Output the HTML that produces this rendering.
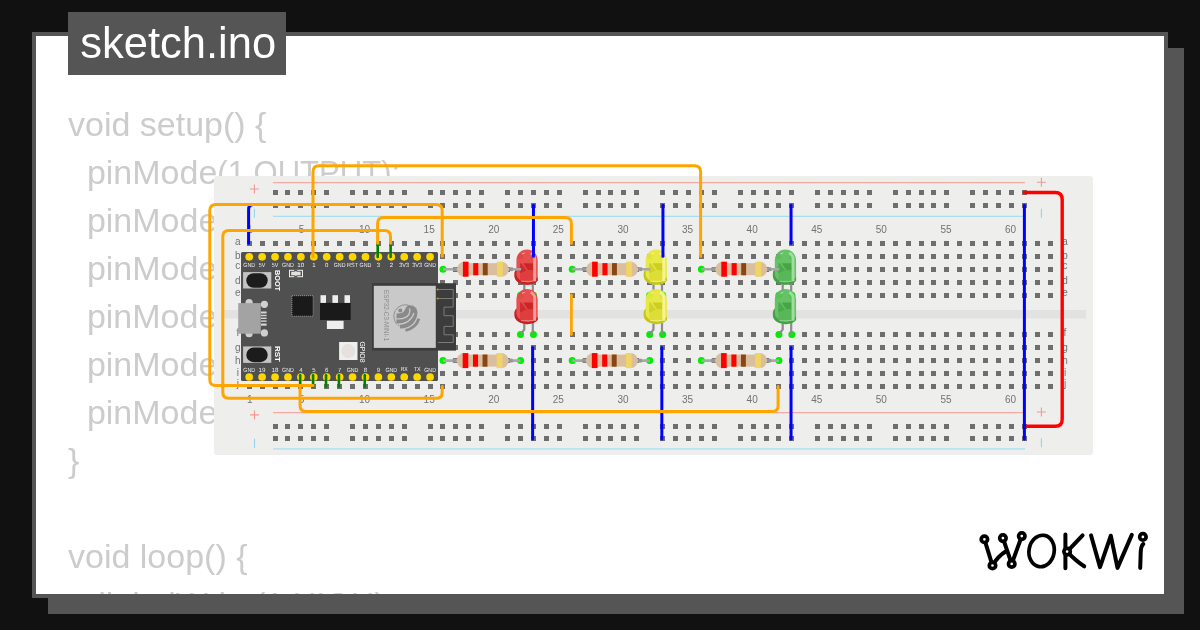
<!DOCTYPE html><html><head><meta charset="utf-8"><style>
html,body{margin:0;padding:0;background:#111;width:1200px;height:630px;overflow:hidden}
svg{position:absolute;left:0;top:0;will-change:transform}
text{font-family:"Liberation Sans",sans-serif}
</style></head><body>
<svg width="1200" height="630" viewBox="0 0 1200 630">
<rect x="0" y="0" width="1200" height="630" fill="#111"/>
<rect x="48" y="48" width="1136" height="566" fill="#555"/>
<rect x="32" y="32" width="1136" height="566" fill="#555"/>
<rect x="36" y="36" width="1128" height="558" fill="#fff"/>
<svg x="36" y="36" width="1128" height="558" viewBox="36 36 1128 558" overflow="hidden">
<g fill="#ccc" font-size="34" style="white-space:pre">
<text x="68" y="135.7" xml:space="preserve">void setup() {</text>
<text x="68" y="183.7" xml:space="preserve">  pinMode</text><text x="217.33" y="183.7" textLength="182.8" lengthAdjust="spacingAndGlyphs">(1,OUTPUT);</text>
<text x="68" y="231.7" xml:space="preserve">  pinMode</text><text x="217.33" y="231.7" textLength="182.8" lengthAdjust="spacingAndGlyphs">(2,OUTPUT);</text>
<text x="68" y="279.7" xml:space="preserve">  pinMode</text><text x="217.33" y="279.7" textLength="182.8" lengthAdjust="spacingAndGlyphs">(3,OUTPUT);</text>
<text x="68" y="327.7" xml:space="preserve">  pinMode</text><text x="217.33" y="327.7" textLength="182.8" lengthAdjust="spacingAndGlyphs">(4,OUTPUT);</text>
<text x="68" y="375.7" xml:space="preserve">  pinMode</text><text x="217.33" y="375.7" textLength="182.8" lengthAdjust="spacingAndGlyphs">(5,OUTPUT);</text>
<text x="68" y="423.7" xml:space="preserve">  pinMode</text><text x="217.33" y="423.7" textLength="182.8" lengthAdjust="spacingAndGlyphs">(6,OUTPUT);</text>
<text x="68" y="471.7" xml:space="preserve">}</text>
<text x="68" y="567.7" xml:space="preserve">void loop() {</text>
<text x="68" y="615.7" xml:space="preserve">  digitalWrite</text><text x="254.44" y="615.7" textLength="140" lengthAdjust="spacingAndGlyphs">(1,HIGH);</text>
</g>
<rect x="214" y="176" width="879" height="279" rx="3" fill="#eeeeec"/>
<rect x="221" y="310" width="865" height="8.5" fill="#e2e2e2"/>
<g stroke-width="1.3"><line x1="273" y1="182.6" x2="1025" y2="182.6" stroke="#f4aaa2"/><line x1="273" y1="216.3" x2="1025" y2="216.3" stroke="#a8def2"/><line x1="273" y1="412.7" x2="1025" y2="412.7" stroke="#f4aaa2"/><line x1="273" y1="448.9" x2="1025" y2="448.9" stroke="#a8def2"/></g>
<path d="M249.9 189h9M254.4 184.5v9" stroke="#f29a92" stroke-width="1.1" fill="none"/><path d="M254.4 208.7v9" stroke="#8fd4f2" stroke-width="1.1" fill="none"/><path d="M1036.9 182.2h9M1041.4 177.7v9" stroke="#f29a92" stroke-width="1.1" fill="none"/><path d="M1041.4 208.8v9" stroke="#8fd4f2" stroke-width="1.1" fill="none"/><path d="M250 414.9h9M254.5 410.4v9" stroke="#f29a92" stroke-width="1.1" fill="none"/><path d="M254.5 438.8v9" stroke="#8fd4f2" stroke-width="1.1" fill="none"/><path d="M1036.9 412h9M1041.4 407.5v9" stroke="#f29a92" stroke-width="1.1" fill="none"/><path d="M1041.4 438.3v9" stroke="#8fd4f2" stroke-width="1.1" fill="none"/>
<g fill="#6e6e6e"><rect x="247" y="241" width="5" height="5"/><rect x="247" y="254" width="5" height="5"/><rect x="247" y="267" width="5" height="5"/><rect x="247" y="280" width="5" height="5"/><rect x="247" y="293" width="5" height="5"/><rect x="247" y="332" width="5" height="5"/><rect x="247" y="345" width="5" height="5"/><rect x="247" y="358" width="5" height="5"/><rect x="247" y="371" width="5" height="5"/><rect x="247" y="384" width="5" height="5"/><rect x="260" y="241" width="5" height="5"/><rect x="260" y="254" width="5" height="5"/><rect x="260" y="267" width="5" height="5"/><rect x="260" y="280" width="5" height="5"/><rect x="260" y="293" width="5" height="5"/><rect x="260" y="332" width="5" height="5"/><rect x="260" y="345" width="5" height="5"/><rect x="260" y="358" width="5" height="5"/><rect x="260" y="371" width="5" height="5"/><rect x="260" y="384" width="5" height="5"/><rect x="273" y="241" width="5" height="5"/><rect x="273" y="254" width="5" height="5"/><rect x="273" y="267" width="5" height="5"/><rect x="273" y="280" width="5" height="5"/><rect x="273" y="293" width="5" height="5"/><rect x="273" y="332" width="5" height="5"/><rect x="273" y="345" width="5" height="5"/><rect x="273" y="358" width="5" height="5"/><rect x="273" y="371" width="5" height="5"/><rect x="273" y="384" width="5" height="5"/><rect x="285" y="241" width="5" height="5"/><rect x="285" y="254" width="5" height="5"/><rect x="285" y="267" width="5" height="5"/><rect x="285" y="280" width="5" height="5"/><rect x="285" y="293" width="5" height="5"/><rect x="285" y="332" width="5" height="5"/><rect x="285" y="345" width="5" height="5"/><rect x="285" y="358" width="5" height="5"/><rect x="285" y="371" width="5" height="5"/><rect x="285" y="384" width="5" height="5"/><rect x="298" y="241" width="5" height="5"/><rect x="298" y="254" width="5" height="5"/><rect x="298" y="267" width="5" height="5"/><rect x="298" y="280" width="5" height="5"/><rect x="298" y="293" width="5" height="5"/><rect x="298" y="332" width="5" height="5"/><rect x="298" y="345" width="5" height="5"/><rect x="298" y="358" width="5" height="5"/><rect x="298" y="371" width="5" height="5"/><rect x="298" y="384" width="5" height="5"/><rect x="311" y="241" width="5" height="5"/><rect x="311" y="254" width="5" height="5"/><rect x="311" y="267" width="5" height="5"/><rect x="311" y="280" width="5" height="5"/><rect x="311" y="293" width="5" height="5"/><rect x="311" y="332" width="5" height="5"/><rect x="311" y="345" width="5" height="5"/><rect x="311" y="358" width="5" height="5"/><rect x="311" y="371" width="5" height="5"/><rect x="311" y="384" width="5" height="5"/><rect x="324" y="241" width="5" height="5"/><rect x="324" y="254" width="5" height="5"/><rect x="324" y="267" width="5" height="5"/><rect x="324" y="280" width="5" height="5"/><rect x="324" y="293" width="5" height="5"/><rect x="324" y="332" width="5" height="5"/><rect x="324" y="345" width="5" height="5"/><rect x="324" y="358" width="5" height="5"/><rect x="324" y="371" width="5" height="5"/><rect x="324" y="384" width="5" height="5"/><rect x="337" y="241" width="5" height="5"/><rect x="337" y="254" width="5" height="5"/><rect x="337" y="267" width="5" height="5"/><rect x="337" y="280" width="5" height="5"/><rect x="337" y="293" width="5" height="5"/><rect x="337" y="332" width="5" height="5"/><rect x="337" y="345" width="5" height="5"/><rect x="337" y="358" width="5" height="5"/><rect x="337" y="371" width="5" height="5"/><rect x="337" y="384" width="5" height="5"/><rect x="350" y="241" width="5" height="5"/><rect x="350" y="254" width="5" height="5"/><rect x="350" y="267" width="5" height="5"/><rect x="350" y="280" width="5" height="5"/><rect x="350" y="293" width="5" height="5"/><rect x="350" y="332" width="5" height="5"/><rect x="350" y="345" width="5" height="5"/><rect x="350" y="358" width="5" height="5"/><rect x="350" y="371" width="5" height="5"/><rect x="350" y="384" width="5" height="5"/><rect x="363" y="241" width="5" height="5"/><rect x="363" y="254" width="5" height="5"/><rect x="363" y="267" width="5" height="5"/><rect x="363" y="280" width="5" height="5"/><rect x="363" y="293" width="5" height="5"/><rect x="363" y="332" width="5" height="5"/><rect x="363" y="345" width="5" height="5"/><rect x="363" y="358" width="5" height="5"/><rect x="363" y="371" width="5" height="5"/><rect x="363" y="384" width="5" height="5"/><rect x="376" y="241" width="5" height="5"/><rect x="376" y="254" width="5" height="5"/><rect x="376" y="267" width="5" height="5"/><rect x="376" y="280" width="5" height="5"/><rect x="376" y="293" width="5" height="5"/><rect x="376" y="332" width="5" height="5"/><rect x="376" y="345" width="5" height="5"/><rect x="376" y="358" width="5" height="5"/><rect x="376" y="371" width="5" height="5"/><rect x="376" y="384" width="5" height="5"/><rect x="389" y="241" width="5" height="5"/><rect x="389" y="254" width="5" height="5"/><rect x="389" y="267" width="5" height="5"/><rect x="389" y="280" width="5" height="5"/><rect x="389" y="293" width="5" height="5"/><rect x="389" y="332" width="5" height="5"/><rect x="389" y="345" width="5" height="5"/><rect x="389" y="358" width="5" height="5"/><rect x="389" y="371" width="5" height="5"/><rect x="389" y="384" width="5" height="5"/><rect x="402" y="241" width="5" height="5"/><rect x="402" y="254" width="5" height="5"/><rect x="402" y="267" width="5" height="5"/><rect x="402" y="280" width="5" height="5"/><rect x="402" y="293" width="5" height="5"/><rect x="402" y="332" width="5" height="5"/><rect x="402" y="345" width="5" height="5"/><rect x="402" y="358" width="5" height="5"/><rect x="402" y="371" width="5" height="5"/><rect x="402" y="384" width="5" height="5"/><rect x="415" y="241" width="5" height="5"/><rect x="415" y="254" width="5" height="5"/><rect x="415" y="267" width="5" height="5"/><rect x="415" y="280" width="5" height="5"/><rect x="415" y="293" width="5" height="5"/><rect x="415" y="332" width="5" height="5"/><rect x="415" y="345" width="5" height="5"/><rect x="415" y="358" width="5" height="5"/><rect x="415" y="371" width="5" height="5"/><rect x="415" y="384" width="5" height="5"/><rect x="428" y="241" width="5" height="5"/><rect x="428" y="254" width="5" height="5"/><rect x="428" y="267" width="5" height="5"/><rect x="428" y="280" width="5" height="5"/><rect x="428" y="293" width="5" height="5"/><rect x="428" y="332" width="5" height="5"/><rect x="428" y="345" width="5" height="5"/><rect x="428" y="358" width="5" height="5"/><rect x="428" y="371" width="5" height="5"/><rect x="428" y="384" width="5" height="5"/><rect x="440" y="241" width="5" height="5"/><rect x="440" y="254" width="5" height="5"/><rect x="440" y="267" width="5" height="5"/><rect x="440" y="280" width="5" height="5"/><rect x="440" y="293" width="5" height="5"/><rect x="440" y="332" width="5" height="5"/><rect x="440" y="345" width="5" height="5"/><rect x="440" y="358" width="5" height="5"/><rect x="440" y="371" width="5" height="5"/><rect x="440" y="384" width="5" height="5"/><rect x="453" y="241" width="5" height="5"/><rect x="453" y="254" width="5" height="5"/><rect x="453" y="267" width="5" height="5"/><rect x="453" y="280" width="5" height="5"/><rect x="453" y="293" width="5" height="5"/><rect x="453" y="332" width="5" height="5"/><rect x="453" y="345" width="5" height="5"/><rect x="453" y="358" width="5" height="5"/><rect x="453" y="371" width="5" height="5"/><rect x="453" y="384" width="5" height="5"/><rect x="466" y="241" width="5" height="5"/><rect x="466" y="254" width="5" height="5"/><rect x="466" y="267" width="5" height="5"/><rect x="466" y="280" width="5" height="5"/><rect x="466" y="293" width="5" height="5"/><rect x="466" y="332" width="5" height="5"/><rect x="466" y="345" width="5" height="5"/><rect x="466" y="358" width="5" height="5"/><rect x="466" y="371" width="5" height="5"/><rect x="466" y="384" width="5" height="5"/><rect x="479" y="241" width="5" height="5"/><rect x="479" y="254" width="5" height="5"/><rect x="479" y="267" width="5" height="5"/><rect x="479" y="280" width="5" height="5"/><rect x="479" y="293" width="5" height="5"/><rect x="479" y="332" width="5" height="5"/><rect x="479" y="345" width="5" height="5"/><rect x="479" y="358" width="5" height="5"/><rect x="479" y="371" width="5" height="5"/><rect x="479" y="384" width="5" height="5"/><rect x="492" y="241" width="5" height="5"/><rect x="492" y="254" width="5" height="5"/><rect x="492" y="267" width="5" height="5"/><rect x="492" y="280" width="5" height="5"/><rect x="492" y="293" width="5" height="5"/><rect x="492" y="332" width="5" height="5"/><rect x="492" y="345" width="5" height="5"/><rect x="492" y="358" width="5" height="5"/><rect x="492" y="371" width="5" height="5"/><rect x="492" y="384" width="5" height="5"/><rect x="505" y="241" width="5" height="5"/><rect x="505" y="254" width="5" height="5"/><rect x="505" y="267" width="5" height="5"/><rect x="505" y="280" width="5" height="5"/><rect x="505" y="293" width="5" height="5"/><rect x="505" y="332" width="5" height="5"/><rect x="505" y="345" width="5" height="5"/><rect x="505" y="358" width="5" height="5"/><rect x="505" y="371" width="5" height="5"/><rect x="505" y="384" width="5" height="5"/><rect x="518" y="241" width="5" height="5"/><rect x="518" y="254" width="5" height="5"/><rect x="518" y="267" width="5" height="5"/><rect x="518" y="280" width="5" height="5"/><rect x="518" y="293" width="5" height="5"/><rect x="518" y="332" width="5" height="5"/><rect x="518" y="345" width="5" height="5"/><rect x="518" y="358" width="5" height="5"/><rect x="518" y="371" width="5" height="5"/><rect x="518" y="384" width="5" height="5"/><rect x="531" y="241" width="5" height="5"/><rect x="531" y="254" width="5" height="5"/><rect x="531" y="267" width="5" height="5"/><rect x="531" y="280" width="5" height="5"/><rect x="531" y="293" width="5" height="5"/><rect x="531" y="332" width="5" height="5"/><rect x="531" y="345" width="5" height="5"/><rect x="531" y="358" width="5" height="5"/><rect x="531" y="371" width="5" height="5"/><rect x="531" y="384" width="5" height="5"/><rect x="544" y="241" width="5" height="5"/><rect x="544" y="254" width="5" height="5"/><rect x="544" y="267" width="5" height="5"/><rect x="544" y="280" width="5" height="5"/><rect x="544" y="293" width="5" height="5"/><rect x="544" y="332" width="5" height="5"/><rect x="544" y="345" width="5" height="5"/><rect x="544" y="358" width="5" height="5"/><rect x="544" y="371" width="5" height="5"/><rect x="544" y="384" width="5" height="5"/><rect x="557" y="241" width="5" height="5"/><rect x="557" y="254" width="5" height="5"/><rect x="557" y="267" width="5" height="5"/><rect x="557" y="280" width="5" height="5"/><rect x="557" y="293" width="5" height="5"/><rect x="557" y="332" width="5" height="5"/><rect x="557" y="345" width="5" height="5"/><rect x="557" y="358" width="5" height="5"/><rect x="557" y="371" width="5" height="5"/><rect x="557" y="384" width="5" height="5"/><rect x="570" y="241" width="5" height="5"/><rect x="570" y="254" width="5" height="5"/><rect x="570" y="267" width="5" height="5"/><rect x="570" y="280" width="5" height="5"/><rect x="570" y="293" width="5" height="5"/><rect x="570" y="332" width="5" height="5"/><rect x="570" y="345" width="5" height="5"/><rect x="570" y="358" width="5" height="5"/><rect x="570" y="371" width="5" height="5"/><rect x="570" y="384" width="5" height="5"/><rect x="583" y="241" width="5" height="5"/><rect x="583" y="254" width="5" height="5"/><rect x="583" y="267" width="5" height="5"/><rect x="583" y="280" width="5" height="5"/><rect x="583" y="293" width="5" height="5"/><rect x="583" y="332" width="5" height="5"/><rect x="583" y="345" width="5" height="5"/><rect x="583" y="358" width="5" height="5"/><rect x="583" y="371" width="5" height="5"/><rect x="583" y="384" width="5" height="5"/><rect x="596" y="241" width="5" height="5"/><rect x="596" y="254" width="5" height="5"/><rect x="596" y="267" width="5" height="5"/><rect x="596" y="280" width="5" height="5"/><rect x="596" y="293" width="5" height="5"/><rect x="596" y="332" width="5" height="5"/><rect x="596" y="345" width="5" height="5"/><rect x="596" y="358" width="5" height="5"/><rect x="596" y="371" width="5" height="5"/><rect x="596" y="384" width="5" height="5"/><rect x="608" y="241" width="5" height="5"/><rect x="608" y="254" width="5" height="5"/><rect x="608" y="267" width="5" height="5"/><rect x="608" y="280" width="5" height="5"/><rect x="608" y="293" width="5" height="5"/><rect x="608" y="332" width="5" height="5"/><rect x="608" y="345" width="5" height="5"/><rect x="608" y="358" width="5" height="5"/><rect x="608" y="371" width="5" height="5"/><rect x="608" y="384" width="5" height="5"/><rect x="621" y="241" width="5" height="5"/><rect x="621" y="254" width="5" height="5"/><rect x="621" y="267" width="5" height="5"/><rect x="621" y="280" width="5" height="5"/><rect x="621" y="293" width="5" height="5"/><rect x="621" y="332" width="5" height="5"/><rect x="621" y="345" width="5" height="5"/><rect x="621" y="358" width="5" height="5"/><rect x="621" y="371" width="5" height="5"/><rect x="621" y="384" width="5" height="5"/><rect x="634" y="241" width="5" height="5"/><rect x="634" y="254" width="5" height="5"/><rect x="634" y="267" width="5" height="5"/><rect x="634" y="280" width="5" height="5"/><rect x="634" y="293" width="5" height="5"/><rect x="634" y="332" width="5" height="5"/><rect x="634" y="345" width="5" height="5"/><rect x="634" y="358" width="5" height="5"/><rect x="634" y="371" width="5" height="5"/><rect x="634" y="384" width="5" height="5"/><rect x="647" y="241" width="5" height="5"/><rect x="647" y="254" width="5" height="5"/><rect x="647" y="267" width="5" height="5"/><rect x="647" y="280" width="5" height="5"/><rect x="647" y="293" width="5" height="5"/><rect x="647" y="332" width="5" height="5"/><rect x="647" y="345" width="5" height="5"/><rect x="647" y="358" width="5" height="5"/><rect x="647" y="371" width="5" height="5"/><rect x="647" y="384" width="5" height="5"/><rect x="660" y="241" width="5" height="5"/><rect x="660" y="254" width="5" height="5"/><rect x="660" y="267" width="5" height="5"/><rect x="660" y="280" width="5" height="5"/><rect x="660" y="293" width="5" height="5"/><rect x="660" y="332" width="5" height="5"/><rect x="660" y="345" width="5" height="5"/><rect x="660" y="358" width="5" height="5"/><rect x="660" y="371" width="5" height="5"/><rect x="660" y="384" width="5" height="5"/><rect x="673" y="241" width="5" height="5"/><rect x="673" y="254" width="5" height="5"/><rect x="673" y="267" width="5" height="5"/><rect x="673" y="280" width="5" height="5"/><rect x="673" y="293" width="5" height="5"/><rect x="673" y="332" width="5" height="5"/><rect x="673" y="345" width="5" height="5"/><rect x="673" y="358" width="5" height="5"/><rect x="673" y="371" width="5" height="5"/><rect x="673" y="384" width="5" height="5"/><rect x="686" y="241" width="5" height="5"/><rect x="686" y="254" width="5" height="5"/><rect x="686" y="267" width="5" height="5"/><rect x="686" y="280" width="5" height="5"/><rect x="686" y="293" width="5" height="5"/><rect x="686" y="332" width="5" height="5"/><rect x="686" y="345" width="5" height="5"/><rect x="686" y="358" width="5" height="5"/><rect x="686" y="371" width="5" height="5"/><rect x="686" y="384" width="5" height="5"/><rect x="699" y="241" width="5" height="5"/><rect x="699" y="254" width="5" height="5"/><rect x="699" y="267" width="5" height="5"/><rect x="699" y="280" width="5" height="5"/><rect x="699" y="293" width="5" height="5"/><rect x="699" y="332" width="5" height="5"/><rect x="699" y="345" width="5" height="5"/><rect x="699" y="358" width="5" height="5"/><rect x="699" y="371" width="5" height="5"/><rect x="699" y="384" width="5" height="5"/><rect x="712" y="241" width="5" height="5"/><rect x="712" y="254" width="5" height="5"/><rect x="712" y="267" width="5" height="5"/><rect x="712" y="280" width="5" height="5"/><rect x="712" y="293" width="5" height="5"/><rect x="712" y="332" width="5" height="5"/><rect x="712" y="345" width="5" height="5"/><rect x="712" y="358" width="5" height="5"/><rect x="712" y="371" width="5" height="5"/><rect x="712" y="384" width="5" height="5"/><rect x="725" y="241" width="5" height="5"/><rect x="725" y="254" width="5" height="5"/><rect x="725" y="267" width="5" height="5"/><rect x="725" y="280" width="5" height="5"/><rect x="725" y="293" width="5" height="5"/><rect x="725" y="332" width="5" height="5"/><rect x="725" y="345" width="5" height="5"/><rect x="725" y="358" width="5" height="5"/><rect x="725" y="371" width="5" height="5"/><rect x="725" y="384" width="5" height="5"/><rect x="738" y="241" width="5" height="5"/><rect x="738" y="254" width="5" height="5"/><rect x="738" y="267" width="5" height="5"/><rect x="738" y="280" width="5" height="5"/><rect x="738" y="293" width="5" height="5"/><rect x="738" y="332" width="5" height="5"/><rect x="738" y="345" width="5" height="5"/><rect x="738" y="358" width="5" height="5"/><rect x="738" y="371" width="5" height="5"/><rect x="738" y="384" width="5" height="5"/><rect x="751" y="241" width="5" height="5"/><rect x="751" y="254" width="5" height="5"/><rect x="751" y="267" width="5" height="5"/><rect x="751" y="280" width="5" height="5"/><rect x="751" y="293" width="5" height="5"/><rect x="751" y="332" width="5" height="5"/><rect x="751" y="345" width="5" height="5"/><rect x="751" y="358" width="5" height="5"/><rect x="751" y="371" width="5" height="5"/><rect x="751" y="384" width="5" height="5"/><rect x="764" y="241" width="5" height="5"/><rect x="764" y="254" width="5" height="5"/><rect x="764" y="267" width="5" height="5"/><rect x="764" y="280" width="5" height="5"/><rect x="764" y="293" width="5" height="5"/><rect x="764" y="332" width="5" height="5"/><rect x="764" y="345" width="5" height="5"/><rect x="764" y="358" width="5" height="5"/><rect x="764" y="371" width="5" height="5"/><rect x="764" y="384" width="5" height="5"/><rect x="776" y="241" width="5" height="5"/><rect x="776" y="254" width="5" height="5"/><rect x="776" y="267" width="5" height="5"/><rect x="776" y="280" width="5" height="5"/><rect x="776" y="293" width="5" height="5"/><rect x="776" y="332" width="5" height="5"/><rect x="776" y="345" width="5" height="5"/><rect x="776" y="358" width="5" height="5"/><rect x="776" y="371" width="5" height="5"/><rect x="776" y="384" width="5" height="5"/><rect x="789" y="241" width="5" height="5"/><rect x="789" y="254" width="5" height="5"/><rect x="789" y="267" width="5" height="5"/><rect x="789" y="280" width="5" height="5"/><rect x="789" y="293" width="5" height="5"/><rect x="789" y="332" width="5" height="5"/><rect x="789" y="345" width="5" height="5"/><rect x="789" y="358" width="5" height="5"/><rect x="789" y="371" width="5" height="5"/><rect x="789" y="384" width="5" height="5"/><rect x="802" y="241" width="5" height="5"/><rect x="802" y="254" width="5" height="5"/><rect x="802" y="267" width="5" height="5"/><rect x="802" y="280" width="5" height="5"/><rect x="802" y="293" width="5" height="5"/><rect x="802" y="332" width="5" height="5"/><rect x="802" y="345" width="5" height="5"/><rect x="802" y="358" width="5" height="5"/><rect x="802" y="371" width="5" height="5"/><rect x="802" y="384" width="5" height="5"/><rect x="815" y="241" width="5" height="5"/><rect x="815" y="254" width="5" height="5"/><rect x="815" y="267" width="5" height="5"/><rect x="815" y="280" width="5" height="5"/><rect x="815" y="293" width="5" height="5"/><rect x="815" y="332" width="5" height="5"/><rect x="815" y="345" width="5" height="5"/><rect x="815" y="358" width="5" height="5"/><rect x="815" y="371" width="5" height="5"/><rect x="815" y="384" width="5" height="5"/><rect x="828" y="241" width="5" height="5"/><rect x="828" y="254" width="5" height="5"/><rect x="828" y="267" width="5" height="5"/><rect x="828" y="280" width="5" height="5"/><rect x="828" y="293" width="5" height="5"/><rect x="828" y="332" width="5" height="5"/><rect x="828" y="345" width="5" height="5"/><rect x="828" y="358" width="5" height="5"/><rect x="828" y="371" width="5" height="5"/><rect x="828" y="384" width="5" height="5"/><rect x="841" y="241" width="5" height="5"/><rect x="841" y="254" width="5" height="5"/><rect x="841" y="267" width="5" height="5"/><rect x="841" y="280" width="5" height="5"/><rect x="841" y="293" width="5" height="5"/><rect x="841" y="332" width="5" height="5"/><rect x="841" y="345" width="5" height="5"/><rect x="841" y="358" width="5" height="5"/><rect x="841" y="371" width="5" height="5"/><rect x="841" y="384" width="5" height="5"/><rect x="854" y="241" width="5" height="5"/><rect x="854" y="254" width="5" height="5"/><rect x="854" y="267" width="5" height="5"/><rect x="854" y="280" width="5" height="5"/><rect x="854" y="293" width="5" height="5"/><rect x="854" y="332" width="5" height="5"/><rect x="854" y="345" width="5" height="5"/><rect x="854" y="358" width="5" height="5"/><rect x="854" y="371" width="5" height="5"/><rect x="854" y="384" width="5" height="5"/><rect x="867" y="241" width="5" height="5"/><rect x="867" y="254" width="5" height="5"/><rect x="867" y="267" width="5" height="5"/><rect x="867" y="280" width="5" height="5"/><rect x="867" y="293" width="5" height="5"/><rect x="867" y="332" width="5" height="5"/><rect x="867" y="345" width="5" height="5"/><rect x="867" y="358" width="5" height="5"/><rect x="867" y="371" width="5" height="5"/><rect x="867" y="384" width="5" height="5"/><rect x="880" y="241" width="5" height="5"/><rect x="880" y="254" width="5" height="5"/><rect x="880" y="267" width="5" height="5"/><rect x="880" y="280" width="5" height="5"/><rect x="880" y="293" width="5" height="5"/><rect x="880" y="332" width="5" height="5"/><rect x="880" y="345" width="5" height="5"/><rect x="880" y="358" width="5" height="5"/><rect x="880" y="371" width="5" height="5"/><rect x="880" y="384" width="5" height="5"/><rect x="893" y="241" width="5" height="5"/><rect x="893" y="254" width="5" height="5"/><rect x="893" y="267" width="5" height="5"/><rect x="893" y="280" width="5" height="5"/><rect x="893" y="293" width="5" height="5"/><rect x="893" y="332" width="5" height="5"/><rect x="893" y="345" width="5" height="5"/><rect x="893" y="358" width="5" height="5"/><rect x="893" y="371" width="5" height="5"/><rect x="893" y="384" width="5" height="5"/><rect x="906" y="241" width="5" height="5"/><rect x="906" y="254" width="5" height="5"/><rect x="906" y="267" width="5" height="5"/><rect x="906" y="280" width="5" height="5"/><rect x="906" y="293" width="5" height="5"/><rect x="906" y="332" width="5" height="5"/><rect x="906" y="345" width="5" height="5"/><rect x="906" y="358" width="5" height="5"/><rect x="906" y="371" width="5" height="5"/><rect x="906" y="384" width="5" height="5"/><rect x="919" y="241" width="5" height="5"/><rect x="919" y="254" width="5" height="5"/><rect x="919" y="267" width="5" height="5"/><rect x="919" y="280" width="5" height="5"/><rect x="919" y="293" width="5" height="5"/><rect x="919" y="332" width="5" height="5"/><rect x="919" y="345" width="5" height="5"/><rect x="919" y="358" width="5" height="5"/><rect x="919" y="371" width="5" height="5"/><rect x="919" y="384" width="5" height="5"/><rect x="931" y="241" width="5" height="5"/><rect x="931" y="254" width="5" height="5"/><rect x="931" y="267" width="5" height="5"/><rect x="931" y="280" width="5" height="5"/><rect x="931" y="293" width="5" height="5"/><rect x="931" y="332" width="5" height="5"/><rect x="931" y="345" width="5" height="5"/><rect x="931" y="358" width="5" height="5"/><rect x="931" y="371" width="5" height="5"/><rect x="931" y="384" width="5" height="5"/><rect x="944" y="241" width="5" height="5"/><rect x="944" y="254" width="5" height="5"/><rect x="944" y="267" width="5" height="5"/><rect x="944" y="280" width="5" height="5"/><rect x="944" y="293" width="5" height="5"/><rect x="944" y="332" width="5" height="5"/><rect x="944" y="345" width="5" height="5"/><rect x="944" y="358" width="5" height="5"/><rect x="944" y="371" width="5" height="5"/><rect x="944" y="384" width="5" height="5"/><rect x="957" y="241" width="5" height="5"/><rect x="957" y="254" width="5" height="5"/><rect x="957" y="267" width="5" height="5"/><rect x="957" y="280" width="5" height="5"/><rect x="957" y="293" width="5" height="5"/><rect x="957" y="332" width="5" height="5"/><rect x="957" y="345" width="5" height="5"/><rect x="957" y="358" width="5" height="5"/><rect x="957" y="371" width="5" height="5"/><rect x="957" y="384" width="5" height="5"/><rect x="970" y="241" width="5" height="5"/><rect x="970" y="254" width="5" height="5"/><rect x="970" y="267" width="5" height="5"/><rect x="970" y="280" width="5" height="5"/><rect x="970" y="293" width="5" height="5"/><rect x="970" y="332" width="5" height="5"/><rect x="970" y="345" width="5" height="5"/><rect x="970" y="358" width="5" height="5"/><rect x="970" y="371" width="5" height="5"/><rect x="970" y="384" width="5" height="5"/><rect x="983" y="241" width="5" height="5"/><rect x="983" y="254" width="5" height="5"/><rect x="983" y="267" width="5" height="5"/><rect x="983" y="280" width="5" height="5"/><rect x="983" y="293" width="5" height="5"/><rect x="983" y="332" width="5" height="5"/><rect x="983" y="345" width="5" height="5"/><rect x="983" y="358" width="5" height="5"/><rect x="983" y="371" width="5" height="5"/><rect x="983" y="384" width="5" height="5"/><rect x="996" y="241" width="5" height="5"/><rect x="996" y="254" width="5" height="5"/><rect x="996" y="267" width="5" height="5"/><rect x="996" y="280" width="5" height="5"/><rect x="996" y="293" width="5" height="5"/><rect x="996" y="332" width="5" height="5"/><rect x="996" y="345" width="5" height="5"/><rect x="996" y="358" width="5" height="5"/><rect x="996" y="371" width="5" height="5"/><rect x="996" y="384" width="5" height="5"/><rect x="1009" y="241" width="5" height="5"/><rect x="1009" y="254" width="5" height="5"/><rect x="1009" y="267" width="5" height="5"/><rect x="1009" y="280" width="5" height="5"/><rect x="1009" y="293" width="5" height="5"/><rect x="1009" y="332" width="5" height="5"/><rect x="1009" y="345" width="5" height="5"/><rect x="1009" y="358" width="5" height="5"/><rect x="1009" y="371" width="5" height="5"/><rect x="1009" y="384" width="5" height="5"/><rect x="1022" y="241" width="5" height="5"/><rect x="1022" y="254" width="5" height="5"/><rect x="1022" y="267" width="5" height="5"/><rect x="1022" y="280" width="5" height="5"/><rect x="1022" y="293" width="5" height="5"/><rect x="1022" y="332" width="5" height="5"/><rect x="1022" y="345" width="5" height="5"/><rect x="1022" y="358" width="5" height="5"/><rect x="1022" y="371" width="5" height="5"/><rect x="1022" y="384" width="5" height="5"/><rect x="1035" y="241" width="5" height="5"/><rect x="1035" y="254" width="5" height="5"/><rect x="1035" y="267" width="5" height="5"/><rect x="1035" y="280" width="5" height="5"/><rect x="1035" y="293" width="5" height="5"/><rect x="1035" y="332" width="5" height="5"/><rect x="1035" y="345" width="5" height="5"/><rect x="1035" y="358" width="5" height="5"/><rect x="1035" y="371" width="5" height="5"/><rect x="1035" y="384" width="5" height="5"/><rect x="1048" y="241" width="5" height="5"/><rect x="1048" y="254" width="5" height="5"/><rect x="1048" y="267" width="5" height="5"/><rect x="1048" y="280" width="5" height="5"/><rect x="1048" y="293" width="5" height="5"/><rect x="1048" y="332" width="5" height="5"/><rect x="1048" y="345" width="5" height="5"/><rect x="1048" y="358" width="5" height="5"/><rect x="1048" y="371" width="5" height="5"/><rect x="1048" y="384" width="5" height="5"/><rect x="273" y="190" width="5" height="5"/><rect x="273" y="203" width="5" height="5"/><rect x="273" y="424" width="5" height="5"/><rect x="273" y="436" width="5" height="5"/><rect x="285" y="190" width="5" height="5"/><rect x="285" y="203" width="5" height="5"/><rect x="285" y="424" width="5" height="5"/><rect x="285" y="436" width="5" height="5"/><rect x="298" y="190" width="5" height="5"/><rect x="298" y="203" width="5" height="5"/><rect x="298" y="424" width="5" height="5"/><rect x="298" y="436" width="5" height="5"/><rect x="311" y="190" width="5" height="5"/><rect x="311" y="203" width="5" height="5"/><rect x="311" y="424" width="5" height="5"/><rect x="311" y="436" width="5" height="5"/><rect x="324" y="190" width="5" height="5"/><rect x="324" y="203" width="5" height="5"/><rect x="324" y="424" width="5" height="5"/><rect x="324" y="436" width="5" height="5"/><rect x="350" y="190" width="5" height="5"/><rect x="350" y="203" width="5" height="5"/><rect x="350" y="424" width="5" height="5"/><rect x="350" y="436" width="5" height="5"/><rect x="363" y="190" width="5" height="5"/><rect x="363" y="203" width="5" height="5"/><rect x="363" y="424" width="5" height="5"/><rect x="363" y="436" width="5" height="5"/><rect x="376" y="190" width="5" height="5"/><rect x="376" y="203" width="5" height="5"/><rect x="376" y="424" width="5" height="5"/><rect x="376" y="436" width="5" height="5"/><rect x="389" y="190" width="5" height="5"/><rect x="389" y="203" width="5" height="5"/><rect x="389" y="424" width="5" height="5"/><rect x="389" y="436" width="5" height="5"/><rect x="402" y="190" width="5" height="5"/><rect x="402" y="203" width="5" height="5"/><rect x="402" y="424" width="5" height="5"/><rect x="402" y="436" width="5" height="5"/><rect x="428" y="190" width="5" height="5"/><rect x="428" y="203" width="5" height="5"/><rect x="428" y="424" width="5" height="5"/><rect x="428" y="436" width="5" height="5"/><rect x="440" y="190" width="5" height="5"/><rect x="440" y="203" width="5" height="5"/><rect x="440" y="424" width="5" height="5"/><rect x="440" y="436" width="5" height="5"/><rect x="453" y="190" width="5" height="5"/><rect x="453" y="203" width="5" height="5"/><rect x="453" y="424" width="5" height="5"/><rect x="453" y="436" width="5" height="5"/><rect x="466" y="190" width="5" height="5"/><rect x="466" y="203" width="5" height="5"/><rect x="466" y="424" width="5" height="5"/><rect x="466" y="436" width="5" height="5"/><rect x="479" y="190" width="5" height="5"/><rect x="479" y="203" width="5" height="5"/><rect x="479" y="424" width="5" height="5"/><rect x="479" y="436" width="5" height="5"/><rect x="505" y="190" width="5" height="5"/><rect x="505" y="203" width="5" height="5"/><rect x="505" y="424" width="5" height="5"/><rect x="505" y="436" width="5" height="5"/><rect x="518" y="190" width="5" height="5"/><rect x="518" y="203" width="5" height="5"/><rect x="518" y="424" width="5" height="5"/><rect x="518" y="436" width="5" height="5"/><rect x="531" y="190" width="5" height="5"/><rect x="531" y="203" width="5" height="5"/><rect x="531" y="424" width="5" height="5"/><rect x="531" y="436" width="5" height="5"/><rect x="544" y="190" width="5" height="5"/><rect x="544" y="203" width="5" height="5"/><rect x="544" y="424" width="5" height="5"/><rect x="544" y="436" width="5" height="5"/><rect x="557" y="190" width="5" height="5"/><rect x="557" y="203" width="5" height="5"/><rect x="557" y="424" width="5" height="5"/><rect x="557" y="436" width="5" height="5"/><rect x="583" y="190" width="5" height="5"/><rect x="583" y="203" width="5" height="5"/><rect x="583" y="424" width="5" height="5"/><rect x="583" y="436" width="5" height="5"/><rect x="596" y="190" width="5" height="5"/><rect x="596" y="203" width="5" height="5"/><rect x="596" y="424" width="5" height="5"/><rect x="596" y="436" width="5" height="5"/><rect x="608" y="190" width="5" height="5"/><rect x="608" y="203" width="5" height="5"/><rect x="608" y="424" width="5" height="5"/><rect x="608" y="436" width="5" height="5"/><rect x="621" y="190" width="5" height="5"/><rect x="621" y="203" width="5" height="5"/><rect x="621" y="424" width="5" height="5"/><rect x="621" y="436" width="5" height="5"/><rect x="634" y="190" width="5" height="5"/><rect x="634" y="203" width="5" height="5"/><rect x="634" y="424" width="5" height="5"/><rect x="634" y="436" width="5" height="5"/><rect x="660" y="190" width="5" height="5"/><rect x="660" y="203" width="5" height="5"/><rect x="660" y="424" width="5" height="5"/><rect x="660" y="436" width="5" height="5"/><rect x="673" y="190" width="5" height="5"/><rect x="673" y="203" width="5" height="5"/><rect x="673" y="424" width="5" height="5"/><rect x="673" y="436" width="5" height="5"/><rect x="686" y="190" width="5" height="5"/><rect x="686" y="203" width="5" height="5"/><rect x="686" y="424" width="5" height="5"/><rect x="686" y="436" width="5" height="5"/><rect x="699" y="190" width="5" height="5"/><rect x="699" y="203" width="5" height="5"/><rect x="699" y="424" width="5" height="5"/><rect x="699" y="436" width="5" height="5"/><rect x="712" y="190" width="5" height="5"/><rect x="712" y="203" width="5" height="5"/><rect x="712" y="424" width="5" height="5"/><rect x="712" y="436" width="5" height="5"/><rect x="738" y="190" width="5" height="5"/><rect x="738" y="203" width="5" height="5"/><rect x="738" y="424" width="5" height="5"/><rect x="738" y="436" width="5" height="5"/><rect x="751" y="190" width="5" height="5"/><rect x="751" y="203" width="5" height="5"/><rect x="751" y="424" width="5" height="5"/><rect x="751" y="436" width="5" height="5"/><rect x="764" y="190" width="5" height="5"/><rect x="764" y="203" width="5" height="5"/><rect x="764" y="424" width="5" height="5"/><rect x="764" y="436" width="5" height="5"/><rect x="776" y="190" width="5" height="5"/><rect x="776" y="203" width="5" height="5"/><rect x="776" y="424" width="5" height="5"/><rect x="776" y="436" width="5" height="5"/><rect x="789" y="190" width="5" height="5"/><rect x="789" y="203" width="5" height="5"/><rect x="789" y="424" width="5" height="5"/><rect x="789" y="436" width="5" height="5"/><rect x="815" y="190" width="5" height="5"/><rect x="815" y="203" width="5" height="5"/><rect x="815" y="424" width="5" height="5"/><rect x="815" y="436" width="5" height="5"/><rect x="828" y="190" width="5" height="5"/><rect x="828" y="203" width="5" height="5"/><rect x="828" y="424" width="5" height="5"/><rect x="828" y="436" width="5" height="5"/><rect x="841" y="190" width="5" height="5"/><rect x="841" y="203" width="5" height="5"/><rect x="841" y="424" width="5" height="5"/><rect x="841" y="436" width="5" height="5"/><rect x="854" y="190" width="5" height="5"/><rect x="854" y="203" width="5" height="5"/><rect x="854" y="424" width="5" height="5"/><rect x="854" y="436" width="5" height="5"/><rect x="867" y="190" width="5" height="5"/><rect x="867" y="203" width="5" height="5"/><rect x="867" y="424" width="5" height="5"/><rect x="867" y="436" width="5" height="5"/><rect x="893" y="190" width="5" height="5"/><rect x="893" y="203" width="5" height="5"/><rect x="893" y="424" width="5" height="5"/><rect x="893" y="436" width="5" height="5"/><rect x="906" y="190" width="5" height="5"/><rect x="906" y="203" width="5" height="5"/><rect x="906" y="424" width="5" height="5"/><rect x="906" y="436" width="5" height="5"/><rect x="919" y="190" width="5" height="5"/><rect x="919" y="203" width="5" height="5"/><rect x="919" y="424" width="5" height="5"/><rect x="919" y="436" width="5" height="5"/><rect x="931" y="190" width="5" height="5"/><rect x="931" y="203" width="5" height="5"/><rect x="931" y="424" width="5" height="5"/><rect x="931" y="436" width="5" height="5"/><rect x="944" y="190" width="5" height="5"/><rect x="944" y="203" width="5" height="5"/><rect x="944" y="424" width="5" height="5"/><rect x="944" y="436" width="5" height="5"/><rect x="970" y="190" width="5" height="5"/><rect x="970" y="203" width="5" height="5"/><rect x="970" y="424" width="5" height="5"/><rect x="970" y="436" width="5" height="5"/><rect x="983" y="190" width="5" height="5"/><rect x="983" y="203" width="5" height="5"/><rect x="983" y="424" width="5" height="5"/><rect x="983" y="436" width="5" height="5"/><rect x="996" y="190" width="5" height="5"/><rect x="996" y="203" width="5" height="5"/><rect x="996" y="424" width="5" height="5"/><rect x="996" y="436" width="5" height="5"/><rect x="1009" y="190" width="5" height="5"/><rect x="1009" y="203" width="5" height="5"/><rect x="1009" y="424" width="5" height="5"/><rect x="1009" y="436" width="5" height="5"/><rect x="1022" y="190" width="5" height="5"/><rect x="1022" y="203" width="5" height="5"/><rect x="1022" y="424" width="5" height="5"/><rect x="1022" y="436" width="5" height="5"/></g>
<g fill="#727272" font-size="10" text-anchor="middle"><text x="249.8" y="233">1</text><text x="249.8" y="403.2">1</text><text x="301.48" y="233">5</text><text x="301.48" y="403.2">5</text><text x="364.58" y="233">10</text><text x="364.58" y="403.2">10</text><text x="429.18" y="233">15</text><text x="429.18" y="403.2">15</text><text x="493.78" y="233">20</text><text x="493.78" y="403.2">20</text><text x="558.38" y="233">25</text><text x="558.38" y="403.2">25</text><text x="622.98" y="233">30</text><text x="622.98" y="403.2">30</text><text x="687.58" y="233">35</text><text x="687.58" y="403.2">35</text><text x="752.18" y="233">40</text><text x="752.18" y="403.2">40</text><text x="816.78" y="233">45</text><text x="816.78" y="403.2">45</text><text x="881.38" y="233">50</text><text x="881.38" y="403.2">50</text><text x="945.98" y="233">55</text><text x="945.98" y="403.2">55</text><text x="1010.58" y="233">60</text><text x="1010.58" y="403.2">60</text><text x="237.8" y="244.9">a</text><text x="1065" y="244.9">a</text><text x="237.8" y="258.6">b</text><text x="1065" y="258.6">b</text><text x="237.8" y="269">c</text><text x="1065" y="269">c</text><text x="237.8" y="283.8">d</text><text x="1065" y="283.8">d</text><text x="237.8" y="296">e</text><text x="1065" y="296">e</text><text x="237.8" y="336">f</text><text x="1065" y="336">f</text><text x="237.8" y="350.6">g</text><text x="1065" y="350.6">g</text><text x="237.8" y="363.9">h</text><text x="1065" y="363.9">h</text><text x="237.8" y="375.6">i</text><text x="1065" y="375.6">i</text><text x="237.8" y="386.5">j</text><text x="1065" y="386.5">j</text></g>
<g><rect x="241" y="252" width="197" height="129" rx="1.5" fill="#505050"/><rect x="372" y="283.2" width="84" height="67.4" fill="#3c3c3c"/><rect x="373.8" y="285.8" width="62" height="62.1" fill="#c9c9c9"/><path d="M437.5 289.5H453.2V307.1H444V315.7H453.2V326.4H444V334.8H453.2V342.5H438.1M437.5 298.5H453.2" fill="none" stroke="#7a7a7a" stroke-width="1"/><circle cx="437.6" cy="289.5" r="1" fill="#c89a00"/><circle cx="437.6" cy="298.5" r="1" fill="#c89a00"/><g fill="none" stroke="#8a8a8a" stroke-linecap="butt"><path d="M411.05 306.3A11.5 11.5 0 0 0 399.55 326.26M411.6 305.2Q414.8 306.8 416.4 309" stroke-width="0.9"/><path d="M396.5 313.5Q403 314 404.8 310Q406.5 305.6 409.6 305.6Q416.5 306.2 417.5 312Q417.6 318 413 323.5Q408 328.6 400 328.6V324.5H396.5Z" fill="#8a8a8a" stroke="none"/><path d="M396.6 318.8Q406.2 319.4 408.9 314.4Q410.6 310.6 409.4 308.4M396.6 324.2Q410 324.6 414 313" stroke="#c9c9c9" stroke-width="1.2"/><path d="M405.5 330.4Q416.2 327.8 418.9 318.6" stroke-width="2.8"/></g><circle cx="400.3" cy="310.4" r="2" fill="#8a8a8a"/><text transform="translate(383.5 290) rotate(90)" font-size="7" fill="#8d8d8d" textLength="51" lengthAdjust="spacingAndGlyphs">ESP32-C3-MINI-1</text><rect x="243.1" y="272.1" width="28.2" height="16.4" fill="#c4c4c4"/><rect x="246.3" y="273.2" width="21.4" height="14.6" rx="7.3" fill="#1c1c1c"/><text transform="translate(274.5 270) rotate(90)" font-size="7.5" font-weight="bold" fill="#fff" textLength="21" lengthAdjust="spacingAndGlyphs">BOOT</text><rect x="243.1" y="346.4" width="28.2" height="16.5" fill="#c4c4c4"/><rect x="246.3" y="347.6" width="21.4" height="14.6" rx="7.3" fill="#1c1c1c"/><text transform="translate(274.5 346) rotate(90)" font-size="7.5" font-weight="bold" fill="#fff" textLength="16" lengthAdjust="spacingAndGlyphs">RST</text><rect x="289.5" y="270.3" width="13" height="6.4" fill="none" stroke="#eee" stroke-width="1"/><rect x="294.2" y="269.5" width="3" height="8" fill="#505050"/><rect x="291.2" y="271.7" width="9.4" height="3.6" fill="#e4e0dc"/><path d="M294.6 271.2h2.3l-1.15 1.2zM294.6 275.8h2.3l-1.15 -1.2z" fill="#e4e0dc"/><rect x="291.9" y="295.7" width="21.2" height="20.5" fill="#1a1a1a" stroke="#ddd" stroke-width="0.6" stroke-dasharray="1 1"/><rect x="320" y="302.9" width="30.7" height="17.1" fill="#1a1a1a"/><g fill="#eee"><rect x="320.5" y="295.2" width="5.5" height="7.7"/><rect x="332.4" y="295.2" width="5.6" height="7.7"/><rect x="344.5" y="295.2" width="5.5" height="7.7"/><rect x="326.9" y="320.8" width="16.7" height="8.2"/></g><g fill="#cfcfcf"><circle cx="249.1" cy="302.7" r="3.6"/><circle cx="264.4" cy="304.3" r="3.6"/><circle cx="249.1" cy="333.7" r="3.6"/><circle cx="264.4" cy="332.9" r="3.6"/></g><g fill="#d4d4d4"><rect x="261" y="311.5" width="5.6" height="2"/><rect x="261" y="314.8" width="5.6" height="1.4"/><rect x="261" y="317.6" width="5.6" height="1.4"/><rect x="261" y="320.4" width="5.6" height="1.4"/><rect x="261" y="323.5" width="5.6" height="2.2"/></g><rect x="238.2" y="303.1" width="22.6" height="30.6" fill="#a3a3a3"/><rect x="339.1" y="342" width="18.4" height="18" fill="#efefef"/><circle cx="348.3" cy="351" r="7" fill="#e6e0de"/><text transform="translate(359.5 341.5) rotate(90)" font-size="7" fill="#fff" textLength="21" lengthAdjust="spacingAndGlyphs">GPIO8</text><g fill="#ffd700"><circle cx="249.2" cy="256.8" r="3.85"/><circle cx="249.2" cy="377" r="3.85"/><circle cx="262.12" cy="256.8" r="3.85"/><circle cx="262.12" cy="377" r="3.85"/><circle cx="275.04" cy="256.8" r="3.85"/><circle cx="275.04" cy="377" r="3.85"/><circle cx="287.96" cy="256.8" r="3.85"/><circle cx="287.96" cy="377" r="3.85"/><circle cx="300.88" cy="256.8" r="3.85"/><circle cx="300.88" cy="377" r="3.85"/><circle cx="313.8" cy="256.8" r="3.85"/><circle cx="313.8" cy="377" r="3.85"/><circle cx="326.72" cy="256.8" r="3.85"/><circle cx="326.72" cy="377" r="3.85"/><circle cx="339.64" cy="256.8" r="3.85"/><circle cx="339.64" cy="377" r="3.85"/><circle cx="352.56" cy="256.8" r="3.85"/><circle cx="352.56" cy="377" r="3.85"/><circle cx="365.48" cy="256.8" r="3.85"/><circle cx="365.48" cy="377" r="3.85"/><circle cx="378.4" cy="256.8" r="3.85"/><circle cx="378.4" cy="377" r="3.85"/><circle cx="391.32" cy="256.8" r="3.85"/><circle cx="391.32" cy="377" r="3.85"/><circle cx="404.24" cy="256.8" r="3.85"/><circle cx="404.24" cy="377" r="3.85"/><circle cx="417.16" cy="256.8" r="3.85"/><circle cx="417.16" cy="377" r="3.85"/><circle cx="430.08" cy="256.8" r="3.85"/><circle cx="430.08" cy="377" r="3.85"/></g><g fill="#eee" font-size="6" text-anchor="middle" text-rendering="geometricPrecision"><text x="249.2" y="267" textLength="11.8" lengthAdjust="spacingAndGlyphs">GND</text><text x="249.2" y="372.3" textLength="11.8" lengthAdjust="spacingAndGlyphs">GND</text><text x="262.12" y="267" textLength="6.5" lengthAdjust="spacingAndGlyphs">5V</text><text x="262.12" y="372.3" textLength="7" lengthAdjust="spacingAndGlyphs">19</text><text x="275.04" y="267" textLength="6.5" lengthAdjust="spacingAndGlyphs">5V</text><text x="275.04" y="372.3" textLength="7" lengthAdjust="spacingAndGlyphs">18</text><text x="287.96" y="267" textLength="11.8" lengthAdjust="spacingAndGlyphs">GND</text><text x="287.96" y="372.3" textLength="11.8" lengthAdjust="spacingAndGlyphs">GND</text><text x="300.88" y="267" textLength="7" lengthAdjust="spacingAndGlyphs">10</text><text x="300.88" y="372.3">4</text><text x="313.8" y="267">1</text><text x="313.8" y="372.3">5</text><text x="326.72" y="267">0</text><text x="326.72" y="372.3">6</text><text x="339.64" y="267" textLength="11.8" lengthAdjust="spacingAndGlyphs">GND</text><text x="339.64" y="372.3">7</text><text x="352.56" y="267" textLength="11" lengthAdjust="spacingAndGlyphs">RST</text><text x="352.56" y="372.3" textLength="11.8" lengthAdjust="spacingAndGlyphs">GND</text><text x="365.48" y="267" textLength="11.8" lengthAdjust="spacingAndGlyphs">GND</text><text x="365.48" y="372.3">8</text><text x="378.4" y="267">3</text><text x="378.4" y="372.3">9</text><text x="391.32" y="267">2</text><text x="391.32" y="372.3" textLength="11.8" lengthAdjust="spacingAndGlyphs">GND</text><text x="404.24" y="267" textLength="10" lengthAdjust="spacingAndGlyphs">3V3</text><text x="404.24" y="370.8" textLength="7" lengthAdjust="spacingAndGlyphs">RX</text><text x="417.16" y="267" textLength="10" lengthAdjust="spacingAndGlyphs">3V3</text><text x="417.16" y="370.8" textLength="7" lengthAdjust="spacingAndGlyphs">TX</text><text x="430.08" y="267" textLength="11.8" lengthAdjust="spacingAndGlyphs">GND</text><text x="430.08" y="372.3" textLength="11.8" lengthAdjust="spacingAndGlyphs">GND</text></g></g>
<circle cx="443" cy="269.2" r="3.5" fill="#00ee00"/><circle cx="443" cy="360.6" r="3.5" fill="#00ee00"/><circle cx="520.52" cy="360.6" r="3.5" fill="#00ee00"/><circle cx="520.52" cy="334.6" r="3.5" fill="#00ee00"/><circle cx="533.44" cy="334.6" r="3.5" fill="#00ee00"/><circle cx="520.52" cy="295.2" r="3.5" fill="#00ee00"/><circle cx="533.44" cy="295.2" r="3.5" fill="#00ee00"/><circle cx="572.2" cy="269.2" r="3.5" fill="#00ee00"/><circle cx="572.2" cy="360.6" r="3.5" fill="#00ee00"/><circle cx="649.72" cy="360.6" r="3.5" fill="#00ee00"/><circle cx="649.72" cy="334.6" r="3.5" fill="#00ee00"/><circle cx="662.64" cy="334.6" r="3.5" fill="#00ee00"/><circle cx="649.72" cy="295.2" r="3.5" fill="#00ee00"/><circle cx="662.64" cy="295.2" r="3.5" fill="#00ee00"/><circle cx="701.4" cy="269.2" r="3.5" fill="#00ee00"/><circle cx="701.4" cy="360.6" r="3.5" fill="#00ee00"/><circle cx="778.92" cy="360.6" r="3.5" fill="#00ee00"/><circle cx="778.92" cy="334.6" r="3.5" fill="#00ee00"/><circle cx="791.84" cy="334.6" r="3.5" fill="#00ee00"/><circle cx="778.92" cy="295.2" r="3.5" fill="#00ee00"/><circle cx="791.84" cy="295.2" r="3.5" fill="#00ee00"/>
<g transform="translate(514.5 249.6)"><path d="M9.8 30V40.5L6.1 45.7M18.3 30V45.7" fill="none" stroke="#8c8c8c" stroke-width="2.2"/><g transform="scale(1.5)"><path d="M1.283 13.001V7.088C1.283 3.175 4.451 0 8.368 0C12.281 0 15.456 3.169 15.456 7.088V20.737C13.982 22.388 11.359 23.49 8.368 23.49C3.749 23.49 0 20.872 0 17.63V16.107C0.001 14.964 0.474 13.903 1.283 13.001Z" fill="#e84646" fill-opacity="0.94"/><path d="M1.283 13.001C0.474 13.903 0.001 14.964 0 16.107V17.63C0 20.872 3.749 23.49 8.368 23.49C11.359 23.49 13.982 22.388 15.456 20.737V18.5C13.5 20.6 11 21.6 8.4 21.6C4.6 21.6 1.6 19.6 1.283 16.6Z" fill="#c42222"/></g><rect x="5.5" y="20.4" width="12.9" height="10.6" fill="#dc3636" opacity="0.7"/><polygon points="8.7 13.6 18.4 13.6 18.4 20.4 13.3 20.4" fill="#c92626"/><polygon points="5.5 13.6 6.9 13.6 12.3 20.6 5.5 23.6" fill="#c92626" opacity="0.8"/><path d="M16.3 3.4Q19.8 5.4 20.2 8.5V31.5" fill="none" stroke="#f6aaaa" stroke-width="2.8" opacity="0.85"/><path d="M7.5 4.6L10.2 3.2" stroke="#fff" stroke-width="0.9" opacity="0.6"/><path d="M6.5 31.6Q13 33.2 21.6 31" fill="none" stroke="#f6aaaa" stroke-width="0.8" opacity="0.9"/></g><g transform="translate(514.5 288.9)"><path d="M9.8 30V40.5L6.1 45.7M18.3 30V45.7" fill="none" stroke="#8c8c8c" stroke-width="2.2"/><g transform="scale(1.5)"><path d="M1.283 13.001V7.088C1.283 3.175 4.451 0 8.368 0C12.281 0 15.456 3.169 15.456 7.088V20.737C13.982 22.388 11.359 23.49 8.368 23.49C3.749 23.49 0 20.872 0 17.63V16.107C0.001 14.964 0.474 13.903 1.283 13.001Z" fill="#e84646" fill-opacity="0.94"/><path d="M1.283 13.001C0.474 13.903 0.001 14.964 0 16.107V17.63C0 20.872 3.749 23.49 8.368 23.49C11.359 23.49 13.982 22.388 15.456 20.737V18.5C13.5 20.6 11 21.6 8.4 21.6C4.6 21.6 1.6 19.6 1.283 16.6Z" fill="#c42222"/></g><rect x="5.5" y="20.4" width="12.9" height="10.6" fill="#dc3636" opacity="0.7"/><polygon points="8.7 13.6 18.4 13.6 18.4 20.4 13.3 20.4" fill="#c92626"/><polygon points="5.5 13.6 6.9 13.6 12.3 20.6 5.5 23.6" fill="#c92626" opacity="0.8"/><path d="M16.3 3.4Q19.8 5.4 20.2 8.5V31.5" fill="none" stroke="#f6aaaa" stroke-width="2.8" opacity="0.85"/><path d="M7.5 4.6L10.2 3.2" stroke="#fff" stroke-width="0.9" opacity="0.6"/><path d="M6.5 31.6Q13 33.2 21.6 31" fill="none" stroke="#f6aaaa" stroke-width="0.8" opacity="0.9"/></g><g transform="translate(643.7 249.6)"><path d="M9.8 30V40.5L6.1 45.7M18.3 30V45.7" fill="none" stroke="#8c8c8c" stroke-width="2.2"/><g transform="scale(1.5)"><path d="M1.283 13.001V7.088C1.283 3.175 4.451 0 8.368 0C12.281 0 15.456 3.169 15.456 7.088V20.737C13.982 22.388 11.359 23.49 8.368 23.49C3.749 23.49 0 20.872 0 17.63V16.107C0.001 14.964 0.474 13.903 1.283 13.001Z" fill="#e8e83e" fill-opacity="0.94"/><path d="M1.283 13.001C0.474 13.903 0.001 14.964 0 16.107V17.63C0 20.872 3.749 23.49 8.368 23.49C11.359 23.49 13.982 22.388 15.456 20.737V18.5C13.5 20.6 11 21.6 8.4 21.6C4.6 21.6 1.6 19.6 1.283 16.6Z" fill="#c4c41c"/></g><rect x="5.5" y="20.4" width="12.9" height="10.6" fill="#d8d832" opacity="0.7"/><polygon points="8.7 13.6 18.4 13.6 18.4 20.4 13.3 20.4" fill="#cdcd22"/><polygon points="5.5 13.6 6.9 13.6 12.3 20.6 5.5 23.6" fill="#cdcd22" opacity="0.8"/><path d="M16.3 3.4Q19.8 5.4 20.2 8.5V31.5" fill="none" stroke="#f6f6a6" stroke-width="2.8" opacity="0.85"/><path d="M7.5 4.6L10.2 3.2" stroke="#fff" stroke-width="0.9" opacity="0.6"/><path d="M6.5 31.6Q13 33.2 21.6 31" fill="none" stroke="#f6f6a6" stroke-width="0.8" opacity="0.9"/></g><g transform="translate(643.7 288.9)"><path d="M9.8 30V40.5L6.1 45.7M18.3 30V45.7" fill="none" stroke="#8c8c8c" stroke-width="2.2"/><g transform="scale(1.5)"><path d="M1.283 13.001V7.088C1.283 3.175 4.451 0 8.368 0C12.281 0 15.456 3.169 15.456 7.088V20.737C13.982 22.388 11.359 23.49 8.368 23.49C3.749 23.49 0 20.872 0 17.63V16.107C0.001 14.964 0.474 13.903 1.283 13.001Z" fill="#e8e83e" fill-opacity="0.94"/><path d="M1.283 13.001C0.474 13.903 0.001 14.964 0 16.107V17.63C0 20.872 3.749 23.49 8.368 23.49C11.359 23.49 13.982 22.388 15.456 20.737V18.5C13.5 20.6 11 21.6 8.4 21.6C4.6 21.6 1.6 19.6 1.283 16.6Z" fill="#c4c41c"/></g><rect x="5.5" y="20.4" width="12.9" height="10.6" fill="#d8d832" opacity="0.7"/><polygon points="8.7 13.6 18.4 13.6 18.4 20.4 13.3 20.4" fill="#cdcd22"/><polygon points="5.5 13.6 6.9 13.6 12.3 20.6 5.5 23.6" fill="#cdcd22" opacity="0.8"/><path d="M16.3 3.4Q19.8 5.4 20.2 8.5V31.5" fill="none" stroke="#f6f6a6" stroke-width="2.8" opacity="0.85"/><path d="M7.5 4.6L10.2 3.2" stroke="#fff" stroke-width="0.9" opacity="0.6"/><path d="M6.5 31.6Q13 33.2 21.6 31" fill="none" stroke="#f6f6a6" stroke-width="0.8" opacity="0.9"/></g><g transform="translate(772.9 249.6)"><path d="M9.8 30V40.5L6.1 45.7M18.3 30V45.7" fill="none" stroke="#8c8c8c" stroke-width="2.2"/><g transform="scale(1.5)"><path d="M1.283 13.001V7.088C1.283 3.175 4.451 0 8.368 0C12.281 0 15.456 3.169 15.456 7.088V20.737C13.982 22.388 11.359 23.49 8.368 23.49C3.749 23.49 0 20.872 0 17.63V16.107C0.001 14.964 0.474 13.903 1.283 13.001Z" fill="#5dbf5d" fill-opacity="0.94"/><path d="M1.283 13.001C0.474 13.903 0.001 14.964 0 16.107V17.63C0 20.872 3.749 23.49 8.368 23.49C11.359 23.49 13.982 22.388 15.456 20.737V18.5C13.5 20.6 11 21.6 8.4 21.6C4.6 21.6 1.6 19.6 1.283 16.6Z" fill="#46a046"/></g><rect x="5.5" y="20.4" width="12.9" height="10.6" fill="#52b252" opacity="0.7"/><polygon points="8.7 13.6 18.4 13.6 18.4 20.4 13.3 20.4" fill="#46a646"/><polygon points="5.5 13.6 6.9 13.6 12.3 20.6 5.5 23.6" fill="#46a646" opacity="0.8"/><path d="M16.3 3.4Q19.8 5.4 20.2 8.5V31.5" fill="none" stroke="#ace2ac" stroke-width="2.8" opacity="0.85"/><path d="M7.5 4.6L10.2 3.2" stroke="#fff" stroke-width="0.9" opacity="0.6"/><path d="M6.5 31.6Q13 33.2 21.6 31" fill="none" stroke="#ace2ac" stroke-width="0.8" opacity="0.9"/></g><g transform="translate(772.9 288.9)"><path d="M9.8 30V40.5L6.1 45.7M18.3 30V45.7" fill="none" stroke="#8c8c8c" stroke-width="2.2"/><g transform="scale(1.5)"><path d="M1.283 13.001V7.088C1.283 3.175 4.451 0 8.368 0C12.281 0 15.456 3.169 15.456 7.088V20.737C13.982 22.388 11.359 23.49 8.368 23.49C3.749 23.49 0 20.872 0 17.63V16.107C0.001 14.964 0.474 13.903 1.283 13.001Z" fill="#5dbf5d" fill-opacity="0.94"/><path d="M1.283 13.001C0.474 13.903 0.001 14.964 0 16.107V17.63C0 20.872 3.749 23.49 8.368 23.49C11.359 23.49 13.982 22.388 15.456 20.737V18.5C13.5 20.6 11 21.6 8.4 21.6C4.6 21.6 1.6 19.6 1.283 16.6Z" fill="#46a046"/></g><rect x="5.5" y="20.4" width="12.9" height="10.6" fill="#52b252" opacity="0.7"/><polygon points="8.7 13.6 18.4 13.6 18.4 20.4 13.3 20.4" fill="#46a646"/><polygon points="5.5 13.6 6.9 13.6 12.3 20.6 5.5 23.6" fill="#46a646" opacity="0.8"/><path d="M16.3 3.4Q19.8 5.4 20.2 8.5V31.5" fill="none" stroke="#ace2ac" stroke-width="2.8" opacity="0.85"/><path d="M7.5 4.6L10.2 3.2" stroke="#fff" stroke-width="0.9" opacity="0.6"/><path d="M6.5 31.6Q13 33.2 21.6 31" fill="none" stroke="#ace2ac" stroke-width="0.8" opacity="0.9"/></g><g><line x1="443" y1="269.2" x2="521.02" y2="269.2" stroke="#a8a8a8" stroke-width="2.6"/><rect x="452.91" y="267.3" width="4" height="3.8" fill="#979797"/><rect x="508.91" y="267.3" width="4" height="3.8" fill="#979797"/><g fill="#d9bfa0"><rect x="456.91" y="261.7" width="16" height="15" rx="7.5"/><rect x="492.91" y="261.7" width="16" height="15" rx="7.5"/><rect x="463.91" y="263.2" width="38" height="12"/></g><rect x="462.91" y="261.7" width="5.6" height="15" fill="#f00"/><rect x="473.21" y="263.1" width="5.1" height="12.2" fill="#f00"/><rect x="482.81" y="263.1" width="4.9" height="12.2" fill="#8b4513"/><rect x="497.01" y="261.7" width="5.7" height="15" fill="#f2d462"/></g><g><line x1="443" y1="360.6" x2="520.52" y2="360.6" stroke="#a8a8a8" stroke-width="2.6"/><rect x="452.66" y="358.7" width="4" height="3.8" fill="#979797"/><rect x="508.66" y="358.7" width="4" height="3.8" fill="#979797"/><g fill="#d9bfa0"><rect x="456.66" y="353.1" width="16" height="15" rx="7.5"/><rect x="492.66" y="353.1" width="16" height="15" rx="7.5"/><rect x="463.66" y="354.6" width="38" height="12"/></g><rect x="462.66" y="353.1" width="5.6" height="15" fill="#f00"/><rect x="472.96" y="354.5" width="5.1" height="12.2" fill="#f00"/><rect x="482.56" y="354.5" width="4.9" height="12.2" fill="#8b4513"/><rect x="496.76" y="353.1" width="5.7" height="15" fill="#f2d462"/></g><g><line x1="572.2" y1="269.2" x2="650.22" y2="269.2" stroke="#a8a8a8" stroke-width="2.6"/><rect x="582.11" y="267.3" width="4" height="3.8" fill="#979797"/><rect x="638.11" y="267.3" width="4" height="3.8" fill="#979797"/><g fill="#d9bfa0"><rect x="586.11" y="261.7" width="16" height="15" rx="7.5"/><rect x="622.11" y="261.7" width="16" height="15" rx="7.5"/><rect x="593.11" y="263.2" width="38" height="12"/></g><rect x="592.11" y="261.7" width="5.6" height="15" fill="#f00"/><rect x="602.41" y="263.1" width="5.1" height="12.2" fill="#f00"/><rect x="612.01" y="263.1" width="4.9" height="12.2" fill="#8b4513"/><rect x="626.21" y="261.7" width="5.7" height="15" fill="#f2d462"/></g><g><line x1="572.2" y1="360.6" x2="649.72" y2="360.6" stroke="#a8a8a8" stroke-width="2.6"/><rect x="581.86" y="358.7" width="4" height="3.8" fill="#979797"/><rect x="637.86" y="358.7" width="4" height="3.8" fill="#979797"/><g fill="#d9bfa0"><rect x="585.86" y="353.1" width="16" height="15" rx="7.5"/><rect x="621.86" y="353.1" width="16" height="15" rx="7.5"/><rect x="592.86" y="354.6" width="38" height="12"/></g><rect x="591.86" y="353.1" width="5.6" height="15" fill="#f00"/><rect x="602.16" y="354.5" width="5.1" height="12.2" fill="#f00"/><rect x="611.76" y="354.5" width="4.9" height="12.2" fill="#8b4513"/><rect x="625.96" y="353.1" width="5.7" height="15" fill="#f2d462"/></g><g><line x1="701.4" y1="269.2" x2="779.42" y2="269.2" stroke="#a8a8a8" stroke-width="2.6"/><rect x="711.31" y="267.3" width="4" height="3.8" fill="#979797"/><rect x="767.31" y="267.3" width="4" height="3.8" fill="#979797"/><g fill="#d9bfa0"><rect x="715.31" y="261.7" width="16" height="15" rx="7.5"/><rect x="751.31" y="261.7" width="16" height="15" rx="7.5"/><rect x="722.31" y="263.2" width="38" height="12"/></g><rect x="721.31" y="261.7" width="5.6" height="15" fill="#f00"/><rect x="731.61" y="263.1" width="5.1" height="12.2" fill="#f00"/><rect x="741.21" y="263.1" width="4.9" height="12.2" fill="#8b4513"/><rect x="755.41" y="261.7" width="5.7" height="15" fill="#f2d462"/></g><g><line x1="701.4" y1="360.6" x2="778.92" y2="360.6" stroke="#a8a8a8" stroke-width="2.6"/><rect x="711.06" y="358.7" width="4" height="3.8" fill="#979797"/><rect x="767.06" y="358.7" width="4" height="3.8" fill="#979797"/><g fill="#d9bfa0"><rect x="715.06" y="353.1" width="16" height="15" rx="7.5"/><rect x="751.06" y="353.1" width="16" height="15" rx="7.5"/><rect x="722.06" y="354.6" width="38" height="12"/></g><rect x="721.06" y="353.1" width="5.6" height="15" fill="#f00"/><rect x="731.36" y="354.5" width="5.1" height="12.2" fill="#f00"/><rect x="740.96" y="354.5" width="4.9" height="12.2" fill="#8b4513"/><rect x="755.16" y="353.1" width="5.7" height="15" fill="#f2d462"/></g>
<path d="M377.7 243.2 L377.7 257" fill="none" stroke="#008000" stroke-width="2.6" stroke-linecap="round" stroke-linejoin="round"/><path d="M390.62 243.2 L390.62 257" fill="none" stroke="#008000" stroke-width="2.6" stroke-linecap="round" stroke-linejoin="round"/><path d="M300.18 375.3 L300.18 386.6" fill="none" stroke="#008000" stroke-width="2.6" stroke-linecap="round" stroke-linejoin="round"/><path d="M313.1 375.3 L313.1 386.6" fill="none" stroke="#008000" stroke-width="2.6" stroke-linecap="round" stroke-linejoin="round"/><path d="M326.02 375.3 L326.02 386.6" fill="none" stroke="#008000" stroke-width="2.6" stroke-linecap="round" stroke-linejoin="round"/><path d="M338.94 375.3 L338.94 386.6" fill="none" stroke="#008000" stroke-width="2.6" stroke-linecap="round" stroke-linejoin="round"/><path d="M364.78 375.3 L364.78 386.6" fill="none" stroke="#008000" stroke-width="2.6" stroke-linecap="round" stroke-linejoin="round"/><path d="M274.24 204.4 L253.6 204.4 Q248.6 204.4 248.6 209.4 L248.6 243.2" fill="none" stroke="#0000ff" stroke-width="3.0" stroke-linecap="round" stroke-linejoin="round"/><path d="M533.44 205.2 L533.44 256.2" fill="none" stroke="#0000ff" stroke-width="3.0" stroke-linecap="round" stroke-linejoin="round"/><path d="M662.94 205.2 L662.94 256.2" fill="none" stroke="#0000ff" stroke-width="3.0" stroke-linecap="round" stroke-linejoin="round"/><path d="M791.04 205.2 L791.04 243.2" fill="none" stroke="#0000ff" stroke-width="3.0" stroke-linecap="round" stroke-linejoin="round"/><path d="M442.2 256.2 L442.2 210.5 Q442.2 204.5 436.2 204.5 L215.8 204.5 Q209.8 204.5 209.8 210.5 L209.8 379.4 Q209.8 385.4 215.8 385.4 L313 385.4" fill="none" stroke="#ffa500" stroke-width="3.0" stroke-linecap="round" stroke-linejoin="round"/><path d="M390.52 243.2 L390.52 236.6 Q390.52 230.6 384.52 230.6 L228.8 230.6 Q222.8 230.6 222.8 236.6 L222.8 392.2 Q222.8 398.2 228.8 398.2 L436.4 398.2 Q442.2 398.2 442.2 392.4 L442.2 386.6" fill="none" stroke="#ffa500" stroke-width="3.0" stroke-linecap="round" stroke-linejoin="round"/><path d="M313 256.8 L313 171.8 Q313 165.8 319 165.8 L694.6 165.8 Q700.6 165.8 700.6 171.8 L700.6 256.2" fill="none" stroke="#ffa500" stroke-width="3.0" stroke-linecap="round" stroke-linejoin="round"/><path d="M377.6 243.2 L377.6 223.4 Q377.6 217.4 383.6 217.4 L565.4 217.4 Q571.4 217.4 571.4 223.4 L571.4 243.2" fill="none" stroke="#ffa500" stroke-width="3.0" stroke-linecap="round" stroke-linejoin="round"/><path d="M571.4 295.2 L571.4 334.6" fill="none" stroke="#ffa500" stroke-width="2.8" stroke-linecap="round" stroke-linejoin="round"/><path d="M532.64 347.6 L532.64 438.9" fill="none" stroke="#0000ff" stroke-width="3.0" stroke-linecap="round" stroke-linejoin="round"/><path d="M661.84 347.6 L661.84 438.9" fill="none" stroke="#0000ff" stroke-width="3.0" stroke-linecap="round" stroke-linejoin="round"/><path d="M791.04 347.6 L791.04 438.9" fill="none" stroke="#0000ff" stroke-width="3.0" stroke-linecap="round" stroke-linejoin="round"/><path d="M300.08 386.6 L300.08 405.5 Q300.08 411.5 306.08 411.5 L772.12 411.5 Q778.12 411.5 778.12 405.5 L778.12 386.6" fill="none" stroke="#ffa500" stroke-width="3.0" stroke-linecap="round" stroke-linejoin="round"/><path d="M1024.4 192.5 L1055.2 192.5 Q1062.2 192.5 1062.2 199.5 L1062.2 419.2 Q1062.2 426.2 1055.2 426.2 L1024.4 426.2" fill="none" stroke="#ff0000" stroke-width="3.4" stroke-linecap="round" stroke-linejoin="round"/><path d="M1024.4 205.2 L1024.4 438.9" fill="none" stroke="#0000ff" stroke-width="3.0" stroke-linecap="round" stroke-linejoin="round"/>
</svg>
<rect x="68" y="12" width="218" height="63" fill="#555"/><text x="80.3" y="58" font-size="43.5" fill="#fff">sketch.ino</text>
<g fill="none" stroke="#000" stroke-width="4" stroke-linecap="round" stroke-linejoin="round"><path d="M984.4 539.3L992.5 565.5Q998 556 1006 551.2M1002.9 538.1L1011.7 563.9L1021.8 536.1"/><ellipse cx="1041.6" cy="551" rx="12.6" ry="15.8" transform="rotate(10 1041.6 551)" stroke-width="3.7"/><path d="M1065.4 534.5V568.3M1067.1 551.6L1082.6 535.3M1067.1 551.6Q1076 561 1084.2 566.3"/><path d="M1091 535.3L1100 567.1L1110.8 535.7L1117.5 567.9L1131.8 534.9"/><path d="M1143.3 544Q1140.5 546 1140.6 556L1140.2 567.9"/></g><g fill="#fff" stroke="#000" stroke-width="3.7"><circle cx="984.4" cy="539.3" r="3.2"/><circle cx="1002.9" cy="538.1" r="3.2"/><circle cx="1021.8" cy="536.1" r="3.2"/><circle cx="992.5" cy="565.5" r="3.2"/><circle cx="1011.7" cy="563.9" r="3.2"/><circle cx="1067.1" cy="551.6" r="3.2"/><circle cx="1142.9" cy="536.9" r="3.2"/></g>
</svg></body></html>
